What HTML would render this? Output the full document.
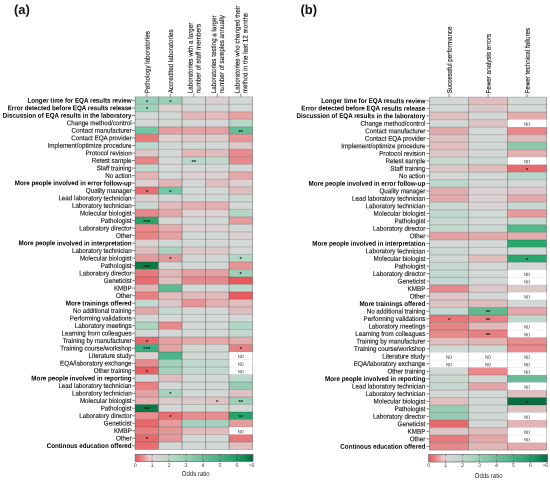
<!DOCTYPE html>
<html><head><meta charset="utf-8"><style>
html,body{margin:0;padding:0;background:#fff;}
svg{display:block;filter:blur(0.35px);}
text{font-family:"Liberation Sans",sans-serif;text-rendering:geometricPrecision;}
.lb{font-size:6.85px;text-anchor:end;fill:#111;stroke:#111;stroke-width:0.12px;}
.b{font-weight:bold;fill:#000;stroke:none;}
.hd{font-size:6.8px;fill:#111;stroke:#111;stroke-width:0.12px;}
.hl{stroke:rgba(0,0,0,0.32);stroke-width:0.6;}
.hl2{stroke:rgba(0,0,0,0.1);stroke-width:0.6;}
.vl2{stroke:rgba(30,30,30,0.3);stroke-width:0.7;}
.vl{stroke:rgba(30,30,30,0.5);stroke-width:0.7;}
.tk{stroke:#555;stroke-width:0.7;}
.nd{font-size:4.8px;text-anchor:middle;fill:#333;}
.st{font-size:6px;text-anchor:middle;fill:#111;font-weight:bold;}
.cbl{font-size:5.3px;text-anchor:middle;fill:#444;}
.cbt{stroke:rgba(60,60,60,0.2);stroke-width:0.6;}
.cbt2{stroke:rgba(40,40,40,0.6);stroke-width:0.7;}
.or{font-size:7.0px;text-anchor:middle;fill:#222;}
.pl{font-size:13px;font-weight:bold;fill:#111;}
</style></head><body>
<svg width="550" height="482" viewBox="0 0 550 482">
<rect width="550" height="482" fill="#fff"/>
<rect x="135.10" y="96.80" width="23.48" height="7.50" fill="#98d0b9"/>
<text x="146.84" y="103.75" class="st">*</text>
<rect x="158.58" y="96.80" width="23.48" height="7.50" fill="#98d0b9"/>
<text x="170.32" y="103.75" class="st">*</text>
<rect x="182.06" y="96.80" width="23.48" height="7.50" fill="#d3d8d6"/>
<rect x="205.54" y="96.80" width="23.48" height="7.50" fill="#dccfcf"/>
<rect x="229.02" y="96.80" width="23.48" height="7.50" fill="#d3d8d6"/>
<rect x="135.10" y="104.30" width="23.48" height="7.50" fill="#9ed3bb"/>
<text x="146.84" y="111.26" class="st">*</text>
<rect x="158.58" y="104.30" width="23.48" height="7.50" fill="#dcd2d3"/>
<rect x="182.06" y="104.30" width="23.48" height="7.50" fill="#d3d8d6"/>
<rect x="205.54" y="104.30" width="23.48" height="7.50" fill="#d3d8d6"/>
<rect x="229.02" y="104.30" width="23.48" height="7.50" fill="#d3d8d6"/>
<rect x="135.10" y="111.81" width="23.48" height="7.50" fill="#d3d8d6"/>
<rect x="158.58" y="111.81" width="23.48" height="7.50" fill="#cfd8d3"/>
<rect x="182.06" y="111.81" width="23.48" height="7.50" fill="#e3b6b7"/>
<rect x="205.54" y="111.81" width="23.48" height="7.50" fill="#e3bcbd"/>
<rect x="229.02" y="111.81" width="23.48" height="7.50" fill="#e6a3a4"/>
<rect x="135.10" y="119.31" width="23.48" height="7.50" fill="#d3d8d6"/>
<rect x="158.58" y="119.31" width="23.48" height="7.50" fill="#d3d8d6"/>
<rect x="182.06" y="119.31" width="23.48" height="7.50" fill="#d3d8d6"/>
<rect x="205.54" y="119.31" width="23.48" height="7.50" fill="#d3d8d6"/>
<rect x="229.02" y="119.31" width="23.48" height="7.50" fill="#b6d8c8"/>
<rect x="135.10" y="126.82" width="23.48" height="7.50" fill="#6fc8a0"/>
<rect x="158.58" y="126.82" width="23.48" height="7.50" fill="#e79c9d"/>
<rect x="182.06" y="126.82" width="23.48" height="7.50" fill="#e5a2a3"/>
<rect x="205.54" y="126.82" width="23.48" height="7.50" fill="#e5a2a3"/>
<rect x="229.02" y="126.82" width="23.48" height="7.50" fill="#66be97"/>
<text x="240.76" y="133.77" class="st">**</text>
<rect x="135.10" y="134.32" width="23.48" height="7.50" fill="#e8787a"/>
<rect x="158.58" y="134.32" width="23.48" height="7.50" fill="#dcd0d0"/>
<rect x="182.06" y="134.32" width="23.48" height="7.50" fill="#dec8c8"/>
<rect x="205.54" y="134.32" width="23.48" height="7.50" fill="#dccccc"/>
<rect x="229.02" y="134.32" width="23.48" height="7.50" fill="#e69596"/>
<rect x="135.10" y="141.83" width="23.48" height="7.50" fill="#bcd8cc"/>
<rect x="158.58" y="141.83" width="23.48" height="7.50" fill="#d3d8d6"/>
<rect x="182.06" y="141.83" width="23.48" height="7.50" fill="#d3d8d6"/>
<rect x="205.54" y="141.83" width="23.48" height="7.50" fill="#d3d8d6"/>
<rect x="229.02" y="141.83" width="23.48" height="7.50" fill="#dcc9c9"/>
<rect x="135.10" y="149.33" width="23.48" height="7.50" fill="#dcc8c8"/>
<rect x="158.58" y="149.33" width="23.48" height="7.50" fill="#d3d8d6"/>
<rect x="182.06" y="149.33" width="23.48" height="7.50" fill="#e3b5b6"/>
<rect x="205.54" y="149.33" width="23.48" height="7.50" fill="#dfbdbe"/>
<rect x="229.02" y="149.33" width="23.48" height="7.50" fill="#e8898b"/>
<rect x="135.10" y="156.84" width="23.48" height="7.50" fill="#e88486"/>
<rect x="158.58" y="156.84" width="23.48" height="7.50" fill="#d3d8d6"/>
<rect x="182.06" y="156.84" width="23.48" height="7.50" fill="#b9d7c9"/>
<text x="193.80" y="163.79" class="st">**</text>
<rect x="205.54" y="156.84" width="23.48" height="7.50" fill="#c0d8cc"/>
<rect x="229.02" y="156.84" width="23.48" height="7.50" fill="#e88a8c"/>
<rect x="135.10" y="164.34" width="23.48" height="7.50" fill="#c0d8cc"/>
<rect x="158.58" y="164.34" width="23.48" height="7.50" fill="#d3d8d6"/>
<rect x="182.06" y="164.34" width="23.48" height="7.50" fill="#d3d8d6"/>
<rect x="205.54" y="164.34" width="23.48" height="7.50" fill="#d3d8d6"/>
<rect x="229.02" y="164.34" width="23.48" height="7.50" fill="#d3d8d6"/>
<rect x="135.10" y="171.85" width="23.48" height="7.50" fill="#e3b4b5"/>
<rect x="158.58" y="171.85" width="23.48" height="7.50" fill="#d3d8d6"/>
<rect x="182.06" y="171.85" width="23.48" height="7.50" fill="#dcd0d0"/>
<rect x="205.54" y="171.85" width="23.48" height="7.50" fill="#dcd0d0"/>
<rect x="229.02" y="171.85" width="23.48" height="7.50" fill="#e5a9aa"/>
<rect x="135.10" y="179.35" width="23.48" height="7.50" fill="#dcd0d0"/>
<rect x="158.58" y="179.35" width="23.48" height="7.50" fill="#e3b4b5"/>
<rect x="182.06" y="179.35" width="23.48" height="7.50" fill="#d3d8d6"/>
<rect x="205.54" y="179.35" width="23.48" height="7.50" fill="#dfc0c1"/>
<rect x="229.02" y="179.35" width="23.48" height="7.50" fill="#dcd0d0"/>
<rect x="135.10" y="186.86" width="23.48" height="7.50" fill="#e86f71"/>
<text x="146.84" y="193.81" class="st">*</text>
<rect x="158.58" y="186.86" width="23.48" height="7.50" fill="#6ccba2"/>
<text x="170.32" y="193.81" class="st">*</text>
<rect x="182.06" y="186.86" width="23.48" height="7.50" fill="#d3d8d6"/>
<rect x="205.54" y="186.86" width="23.48" height="7.50" fill="#d3d8d6"/>
<rect x="229.02" y="186.86" width="23.48" height="7.50" fill="#e0bebf"/>
<rect x="135.10" y="194.37" width="23.48" height="7.50" fill="#dccfcf"/>
<rect x="158.58" y="194.37" width="23.48" height="7.50" fill="#d0d8d4"/>
<rect x="182.06" y="194.37" width="23.48" height="7.50" fill="#d3d8d6"/>
<rect x="205.54" y="194.37" width="23.48" height="7.50" fill="#d3d8d6"/>
<rect x="229.02" y="194.37" width="23.48" height="7.50" fill="#c9d9d1"/>
<rect x="135.10" y="201.87" width="23.48" height="7.50" fill="#ccd8d2"/>
<rect x="158.58" y="201.87" width="23.48" height="7.50" fill="#e0bcbd"/>
<rect x="182.06" y="201.87" width="23.48" height="7.50" fill="#e2b0b1"/>
<rect x="205.54" y="201.87" width="23.48" height="7.50" fill="#e2b0b1"/>
<rect x="229.02" y="201.87" width="23.48" height="7.50" fill="#d3d8d6"/>
<rect x="135.10" y="209.38" width="23.48" height="7.50" fill="#e88889"/>
<rect x="158.58" y="209.38" width="23.48" height="7.50" fill="#e2a8a9"/>
<rect x="182.06" y="209.38" width="23.48" height="7.50" fill="#dcd0d0"/>
<rect x="205.54" y="209.38" width="23.48" height="7.50" fill="#dcd0d0"/>
<rect x="229.02" y="209.38" width="23.48" height="7.50" fill="#b5d6c6"/>
<rect x="135.10" y="216.88" width="23.48" height="7.50" fill="#2aa46a"/>
<text x="146.84" y="223.83" class="st">***</text>
<rect x="158.58" y="216.88" width="23.48" height="7.50" fill="#d3d8d6"/>
<rect x="182.06" y="216.88" width="23.48" height="7.50" fill="#d3d8d6"/>
<rect x="205.54" y="216.88" width="23.48" height="7.50" fill="#d3d8d6"/>
<rect x="229.02" y="216.88" width="23.48" height="7.50" fill="#e69a9b"/>
<rect x="135.10" y="224.38" width="23.48" height="7.50" fill="#e8898a"/>
<rect x="158.58" y="224.38" width="23.48" height="7.50" fill="#e3adae"/>
<rect x="182.06" y="224.38" width="23.48" height="7.50" fill="#dcd0d0"/>
<rect x="205.54" y="224.38" width="23.48" height="7.50" fill="#dcd0d0"/>
<rect x="229.02" y="224.38" width="23.48" height="7.50" fill="#d3d8d6"/>
<rect x="135.10" y="231.89" width="23.48" height="7.50" fill="#e88486"/>
<rect x="158.58" y="231.89" width="23.48" height="7.50" fill="#e5a0a1"/>
<rect x="182.06" y="231.89" width="23.48" height="7.50" fill="#d3d8d6"/>
<rect x="205.54" y="231.89" width="23.48" height="7.50" fill="#d3d8d6"/>
<rect x="229.02" y="231.89" width="23.48" height="7.50" fill="#dcd0d0"/>
<rect x="135.10" y="239.39" width="23.48" height="7.50" fill="#dcd0d0"/>
<rect x="158.58" y="239.39" width="23.48" height="7.50" fill="#d3d8d6"/>
<rect x="182.06" y="239.39" width="23.48" height="7.50" fill="#d3d8d6"/>
<rect x="205.54" y="239.39" width="23.48" height="7.50" fill="#d3d8d6"/>
<rect x="229.02" y="239.39" width="23.48" height="7.50" fill="#d3d8d6"/>
<rect x="135.10" y="246.90" width="23.48" height="7.50" fill="#e0bcbd"/>
<rect x="158.58" y="246.90" width="23.48" height="7.50" fill="#a9d3bf"/>
<rect x="182.06" y="246.90" width="23.48" height="7.50" fill="#dcc8c8"/>
<rect x="205.54" y="246.90" width="23.48" height="7.50" fill="#dcc8c8"/>
<rect x="229.02" y="246.90" width="23.48" height="7.50" fill="#d3d8d6"/>
<rect x="135.10" y="254.40" width="23.48" height="7.50" fill="#e59c9d"/>
<rect x="158.58" y="254.40" width="23.48" height="7.50" fill="#e5999a"/>
<text x="170.32" y="261.36" class="st">*</text>
<rect x="182.06" y="254.40" width="23.48" height="7.50" fill="#d3d8d6"/>
<rect x="205.54" y="254.40" width="23.48" height="7.50" fill="#d3d8d6"/>
<rect x="229.02" y="254.40" width="23.48" height="7.50" fill="#b2d6c5"/>
<text x="240.76" y="261.36" class="st">*</text>
<rect x="135.10" y="261.91" width="23.48" height="7.50" fill="#0e7a48"/>
<text x="146.84" y="268.86" class="st">***</text>
<rect x="158.58" y="261.91" width="23.48" height="7.50" fill="#d3d8d6"/>
<rect x="182.06" y="261.91" width="23.48" height="7.50" fill="#d3d8d6"/>
<rect x="205.54" y="261.91" width="23.48" height="7.50" fill="#d3d8d6"/>
<rect x="229.02" y="261.91" width="23.48" height="7.50" fill="#e69596"/>
<rect x="135.10" y="269.42" width="23.48" height="7.50" fill="#e87a7c"/>
<rect x="158.58" y="269.42" width="23.48" height="7.50" fill="#e0b8b9"/>
<rect x="182.06" y="269.42" width="23.48" height="7.50" fill="#e5a0a1"/>
<rect x="205.54" y="269.42" width="23.48" height="7.50" fill="#e5a0a1"/>
<rect x="229.02" y="269.42" width="23.48" height="7.50" fill="#9dcfb8"/>
<text x="240.76" y="276.37" class="st">*</text>
<rect x="135.10" y="276.92" width="23.48" height="7.50" fill="#e86c6e"/>
<rect x="158.58" y="276.92" width="23.48" height="7.50" fill="#dfc0c0"/>
<rect x="182.06" y="276.92" width="23.48" height="7.50" fill="#e7898a"/>
<rect x="205.54" y="276.92" width="23.48" height="7.50" fill="#e7898a"/>
<rect x="229.02" y="276.92" width="23.48" height="7.50" fill="#e8595c"/>
<rect x="135.10" y="284.43" width="23.48" height="7.50" fill="#e0b5b6"/>
<rect x="158.58" y="284.43" width="23.48" height="7.50" fill="#5fbb92"/>
<rect x="182.06" y="284.43" width="23.48" height="7.50" fill="#d3d8d6"/>
<rect x="205.54" y="284.43" width="23.48" height="7.50" fill="#d3d8d6"/>
<rect x="229.02" y="284.43" width="23.48" height="7.50" fill="#bcd8cb"/>
<rect x="135.10" y="291.93" width="23.48" height="7.50" fill="#e87f81"/>
<rect x="158.58" y="291.93" width="23.48" height="7.50" fill="#e0bcbd"/>
<rect x="182.06" y="291.93" width="23.48" height="7.50" fill="#e0bcbd"/>
<rect x="205.54" y="291.93" width="23.48" height="7.50" fill="#e0bcbd"/>
<rect x="229.02" y="291.93" width="23.48" height="7.50" fill="#e85b5e"/>
<rect x="135.10" y="299.44" width="23.48" height="7.50" fill="#c3d8ce"/>
<rect x="158.58" y="299.44" width="23.48" height="7.50" fill="#dcc8c9"/>
<rect x="182.06" y="299.44" width="23.48" height="7.50" fill="#e89395"/>
<rect x="205.54" y="299.44" width="23.48" height="7.50" fill="#e2b0b1"/>
<rect x="229.02" y="299.44" width="23.48" height="7.50" fill="#e0bebf"/>
<rect x="135.10" y="306.94" width="23.48" height="7.50" fill="#e3a6a7"/>
<rect x="158.58" y="306.94" width="23.48" height="7.50" fill="#c3d8ce"/>
<rect x="182.06" y="306.94" width="23.48" height="7.50" fill="#d3d8d6"/>
<rect x="205.54" y="306.94" width="23.48" height="7.50" fill="#d3d8d6"/>
<rect x="229.02" y="306.94" width="23.48" height="7.50" fill="#e0bebf"/>
<rect x="135.10" y="314.44" width="23.48" height="7.50" fill="#d3d8d6"/>
<rect x="158.58" y="314.44" width="23.48" height="7.50" fill="#d3d8d6"/>
<rect x="182.06" y="314.44" width="23.48" height="7.50" fill="#d3d8d6"/>
<rect x="205.54" y="314.44" width="23.48" height="7.50" fill="#d3d8d6"/>
<rect x="229.02" y="314.44" width="23.48" height="7.50" fill="#d3d8d6"/>
<rect x="135.10" y="321.95" width="23.48" height="7.50" fill="#abd3c1"/>
<rect x="158.58" y="321.95" width="23.48" height="7.50" fill="#e8898b"/>
<rect x="182.06" y="321.95" width="23.48" height="7.50" fill="#d3d8d6"/>
<rect x="205.54" y="321.95" width="23.48" height="7.50" fill="#d3d8d6"/>
<rect x="229.02" y="321.95" width="23.48" height="7.50" fill="#b3d6c6"/>
<rect x="135.10" y="329.45" width="23.48" height="7.50" fill="#d3d8d6"/>
<rect x="158.58" y="329.45" width="23.48" height="7.50" fill="#d3d8d6"/>
<rect x="182.06" y="329.45" width="23.48" height="7.50" fill="#d3d8d6"/>
<rect x="205.54" y="329.45" width="23.48" height="7.50" fill="#d3d8d6"/>
<rect x="229.02" y="329.45" width="23.48" height="7.50" fill="#c3d8ce"/>
<rect x="135.10" y="336.96" width="23.48" height="7.50" fill="#e86a6c"/>
<text x="146.84" y="343.91" class="st">*</text>
<rect x="158.58" y="336.96" width="23.48" height="7.50" fill="#e5a0a1"/>
<rect x="182.06" y="336.96" width="23.48" height="7.50" fill="#e5a7a8"/>
<rect x="205.54" y="336.96" width="23.48" height="7.50" fill="#e5a7a8"/>
<rect x="229.02" y="336.96" width="23.48" height="7.50" fill="#e3adae"/>
<rect x="135.10" y="344.46" width="23.48" height="7.50" fill="#3ab07f"/>
<text x="146.84" y="351.42" class="st">***</text>
<rect x="158.58" y="344.46" width="23.48" height="7.50" fill="#e5a0a1"/>
<rect x="182.06" y="344.46" width="23.48" height="7.50" fill="#d3d8d6"/>
<rect x="205.54" y="344.46" width="23.48" height="7.50" fill="#d3d8d6"/>
<rect x="229.02" y="344.46" width="23.48" height="7.50" fill="#e88082"/>
<text x="240.76" y="351.42" class="st">*</text>
<rect x="135.10" y="351.97" width="23.48" height="7.50" fill="#dcd0d0"/>
<rect x="158.58" y="351.97" width="23.48" height="7.50" fill="#4cb48a"/>
<rect x="182.06" y="351.97" width="23.48" height="7.50" fill="#d3d8d6"/>
<rect x="205.54" y="351.97" width="23.48" height="7.50" fill="#d3d8d6"/>
<rect x="229.02" y="351.97" width="23.48" height="7.50" fill="#ffffff"/>
<text transform="translate(240.76,358.12) scale(0.9,1) rotate(0.05)" class="nd">ND</text>
<rect x="135.10" y="359.48" width="23.48" height="7.50" fill="#e68c8e"/>
<rect x="158.58" y="359.48" width="23.48" height="7.50" fill="#a4d1bc"/>
<rect x="182.06" y="359.48" width="23.48" height="7.50" fill="#c3d8ce"/>
<rect x="205.54" y="359.48" width="23.48" height="7.50" fill="#c3d8ce"/>
<rect x="229.02" y="359.48" width="23.48" height="7.50" fill="#ffffff"/>
<text transform="translate(240.76,365.63) scale(0.9,1) rotate(0.05)" class="nd">ND</text>
<rect x="135.10" y="366.98" width="23.48" height="7.50" fill="#e85e61"/>
<text x="146.84" y="373.93" class="st">*</text>
<rect x="158.58" y="366.98" width="23.48" height="7.50" fill="#a4d1bc"/>
<rect x="182.06" y="366.98" width="23.48" height="7.50" fill="#c3d8ce"/>
<rect x="205.54" y="366.98" width="23.48" height="7.50" fill="#c3d8ce"/>
<rect x="229.02" y="366.98" width="23.48" height="7.50" fill="#ffffff"/>
<text transform="translate(240.76,373.13) scale(0.9,1) rotate(0.05)" class="nd">ND</text>
<rect x="135.10" y="374.49" width="23.48" height="7.50" fill="#d3d8d6"/>
<rect x="158.58" y="374.49" width="23.48" height="7.50" fill="#e0bcbd"/>
<rect x="182.06" y="374.49" width="23.48" height="7.50" fill="#d3d8d6"/>
<rect x="205.54" y="374.49" width="23.48" height="7.50" fill="#d3d8d6"/>
<rect x="229.02" y="374.49" width="23.48" height="7.50" fill="#bcd8cb"/>
<rect x="135.10" y="381.99" width="23.48" height="7.50" fill="#e87f81"/>
<rect x="158.58" y="381.99" width="23.48" height="7.50" fill="#d3d8d6"/>
<rect x="182.06" y="381.99" width="23.48" height="7.50" fill="#d3d8d6"/>
<rect x="205.54" y="381.99" width="23.48" height="7.50" fill="#d3d8d6"/>
<rect x="229.02" y="381.99" width="23.48" height="7.50" fill="#94cdb2"/>
<rect x="135.10" y="389.50" width="23.48" height="7.50" fill="#e3a3a4"/>
<rect x="158.58" y="389.50" width="23.48" height="7.50" fill="#a8d3bf"/>
<text x="170.32" y="396.45" class="st">*</text>
<rect x="182.06" y="389.50" width="23.48" height="7.50" fill="#d3d8d6"/>
<rect x="205.54" y="389.50" width="23.48" height="7.50" fill="#d3d8d6"/>
<rect x="229.02" y="389.50" width="23.48" height="7.50" fill="#dfc3c4"/>
<rect x="135.10" y="397.00" width="23.48" height="7.50" fill="#e3b0b1"/>
<rect x="158.58" y="397.00" width="23.48" height="7.50" fill="#dcc8c9"/>
<rect x="182.06" y="397.00" width="23.48" height="7.50" fill="#dcc8c9"/>
<rect x="205.54" y="397.00" width="23.48" height="7.50" fill="#dfc3c4"/>
<text x="217.28" y="403.95" class="st">*</text>
<rect x="229.02" y="397.00" width="23.48" height="7.50" fill="#9dcfb8"/>
<text x="240.76" y="403.95" class="st">**</text>
<rect x="135.10" y="404.50" width="23.48" height="7.50" fill="#0c7a47"/>
<text x="146.84" y="411.46" class="st">***</text>
<rect x="158.58" y="404.50" width="23.48" height="7.50" fill="#d3d8d6"/>
<rect x="182.06" y="404.50" width="23.48" height="7.50" fill="#d0d8d4"/>
<rect x="205.54" y="404.50" width="23.48" height="7.50" fill="#d0d8d4"/>
<rect x="229.02" y="404.50" width="23.48" height="7.50" fill="#d3d8d6"/>
<rect x="135.10" y="412.01" width="23.48" height="7.50" fill="#e68e90"/>
<rect x="158.58" y="412.01" width="23.48" height="7.50" fill="#e86e70"/>
<text x="170.32" y="418.96" class="st">*</text>
<rect x="182.06" y="412.01" width="23.48" height="7.50" fill="#e68e90"/>
<rect x="205.54" y="412.01" width="23.48" height="7.50" fill="#e68e90"/>
<rect x="229.02" y="412.01" width="23.48" height="7.50" fill="#25a56b"/>
<text x="240.76" y="418.96" class="st">**</text>
<rect x="135.10" y="419.51" width="23.48" height="7.50" fill="#e8696b"/>
<rect x="158.58" y="419.51" width="23.48" height="7.50" fill="#e59b9c"/>
<rect x="182.06" y="419.51" width="23.48" height="7.50" fill="#a7d2be"/>
<rect x="205.54" y="419.51" width="23.48" height="7.50" fill="#a7d2be"/>
<rect x="229.02" y="419.51" width="23.48" height="7.50" fill="#e59c9d"/>
<rect x="135.10" y="427.02" width="23.48" height="7.50" fill="#e88082"/>
<rect x="158.58" y="427.02" width="23.48" height="7.50" fill="#e59697"/>
<rect x="182.06" y="427.02" width="23.48" height="7.50" fill="#e0bcbd"/>
<rect x="205.54" y="427.02" width="23.48" height="7.50" fill="#e0bcbd"/>
<rect x="229.02" y="427.02" width="23.48" height="7.50" fill="#ffffff"/>
<text transform="translate(240.76,433.17) scale(0.9,1) rotate(0.05)" class="nd">ND</text>
<rect x="135.10" y="434.53" width="23.48" height="7.50" fill="#e8696b"/>
<text x="146.84" y="441.48" class="st">*</text>
<rect x="158.58" y="434.53" width="23.48" height="7.50" fill="#e5999a"/>
<rect x="182.06" y="434.53" width="23.48" height="7.50" fill="#d3d8d6"/>
<rect x="205.54" y="434.53" width="23.48" height="7.50" fill="#d3d8d6"/>
<rect x="229.02" y="434.53" width="23.48" height="7.50" fill="#e8797b"/>
<rect x="135.10" y="442.03" width="23.48" height="7.50" fill="#e86f71"/>
<rect x="158.58" y="442.03" width="23.48" height="7.50" fill="#d3d8d6"/>
<rect x="182.06" y="442.03" width="23.48" height="7.50" fill="#d3d8d6"/>
<rect x="205.54" y="442.03" width="23.48" height="7.50" fill="#d3d8d6"/>
<rect x="229.02" y="442.03" width="23.48" height="7.50" fill="#e0bcbd"/>
<line x1="135.10" x2="252.50" y1="96.80" y2="96.80" class="hl"/>
<line x1="135.10" x2="252.50" y1="104.30" y2="104.30" class="hl"/>
<line x1="135.10" x2="252.50" y1="111.81" y2="111.81" class="hl"/>
<line x1="135.10" x2="252.50" y1="119.31" y2="119.31" class="hl"/>
<line x1="135.10" x2="252.50" y1="126.82" y2="126.82" class="hl"/>
<line x1="135.10" x2="252.50" y1="134.32" y2="134.32" class="hl"/>
<line x1="135.10" x2="252.50" y1="141.83" y2="141.83" class="hl"/>
<line x1="135.10" x2="252.50" y1="149.33" y2="149.33" class="hl"/>
<line x1="135.10" x2="252.50" y1="156.84" y2="156.84" class="hl"/>
<line x1="135.10" x2="252.50" y1="164.34" y2="164.34" class="hl"/>
<line x1="135.10" x2="252.50" y1="171.85" y2="171.85" class="hl"/>
<line x1="135.10" x2="252.50" y1="179.35" y2="179.35" class="hl"/>
<line x1="135.10" x2="252.50" y1="186.86" y2="186.86" class="hl"/>
<line x1="135.10" x2="252.50" y1="194.37" y2="194.37" class="hl"/>
<line x1="135.10" x2="252.50" y1="201.87" y2="201.87" class="hl"/>
<line x1="135.10" x2="252.50" y1="209.38" y2="209.38" class="hl"/>
<line x1="135.10" x2="252.50" y1="216.88" y2="216.88" class="hl"/>
<line x1="135.10" x2="252.50" y1="224.38" y2="224.38" class="hl"/>
<line x1="135.10" x2="252.50" y1="231.89" y2="231.89" class="hl"/>
<line x1="135.10" x2="252.50" y1="239.39" y2="239.39" class="hl"/>
<line x1="135.10" x2="252.50" y1="246.90" y2="246.90" class="hl"/>
<line x1="135.10" x2="252.50" y1="254.40" y2="254.40" class="hl"/>
<line x1="135.10" x2="252.50" y1="261.91" y2="261.91" class="hl"/>
<line x1="135.10" x2="252.50" y1="269.42" y2="269.42" class="hl"/>
<line x1="135.10" x2="252.50" y1="276.92" y2="276.92" class="hl"/>
<line x1="135.10" x2="252.50" y1="284.43" y2="284.43" class="hl"/>
<line x1="135.10" x2="252.50" y1="291.93" y2="291.93" class="hl"/>
<line x1="135.10" x2="252.50" y1="299.44" y2="299.44" class="hl"/>
<line x1="135.10" x2="252.50" y1="306.94" y2="306.94" class="hl"/>
<line x1="135.10" x2="252.50" y1="314.44" y2="314.44" class="hl"/>
<line x1="135.10" x2="252.50" y1="321.95" y2="321.95" class="hl"/>
<line x1="135.10" x2="252.50" y1="329.45" y2="329.45" class="hl"/>
<line x1="135.10" x2="252.50" y1="336.96" y2="336.96" class="hl"/>
<line x1="135.10" x2="252.50" y1="344.46" y2="344.46" class="hl"/>
<line x1="135.10" x2="229.02" y1="351.97" y2="351.97" class="hl"/>
<line x1="229.02" x2="252.50" y1="351.97" y2="351.97" class="hl2"/>
<line x1="135.10" x2="229.02" y1="359.48" y2="359.48" class="hl"/>
<line x1="229.02" x2="252.50" y1="359.48" y2="359.48" class="hl2"/>
<line x1="135.10" x2="229.02" y1="366.98" y2="366.98" class="hl"/>
<line x1="229.02" x2="252.50" y1="366.98" y2="366.98" class="hl2"/>
<line x1="135.10" x2="229.02" y1="374.49" y2="374.49" class="hl"/>
<line x1="229.02" x2="252.50" y1="374.49" y2="374.49" class="hl2"/>
<line x1="135.10" x2="252.50" y1="381.99" y2="381.99" class="hl"/>
<line x1="135.10" x2="252.50" y1="389.50" y2="389.50" class="hl"/>
<line x1="135.10" x2="252.50" y1="397.00" y2="397.00" class="hl"/>
<line x1="135.10" x2="252.50" y1="404.50" y2="404.50" class="hl"/>
<line x1="135.10" x2="252.50" y1="412.01" y2="412.01" class="hl"/>
<line x1="135.10" x2="252.50" y1="419.51" y2="419.51" class="hl"/>
<line x1="135.10" x2="229.02" y1="427.02" y2="427.02" class="hl"/>
<line x1="229.02" x2="252.50" y1="427.02" y2="427.02" class="hl2"/>
<line x1="135.10" x2="229.02" y1="434.53" y2="434.53" class="hl"/>
<line x1="229.02" x2="252.50" y1="434.53" y2="434.53" class="hl2"/>
<line x1="135.10" x2="252.50" y1="442.03" y2="442.03" class="hl"/>
<line x1="135.10" x2="252.50" y1="449.54" y2="449.54" class="hl"/>
<line x1="135.10" x2="135.10" y1="96.80" y2="449.54" class="vl"/>
<line x1="158.58" x2="158.58" y1="96.80" y2="449.54" class="vl"/>
<line x1="182.06" x2="182.06" y1="96.80" y2="449.54" class="vl"/>
<line x1="205.54" x2="205.54" y1="96.80" y2="449.54" class="vl"/>
<line x1="229.02" x2="229.02" y1="96.80" y2="351.97" class="vl"/>
<line x1="229.02" x2="229.02" y1="351.97" y2="374.49" class="vl2"/>
<line x1="229.02" x2="229.02" y1="374.49" y2="427.02" class="vl"/>
<line x1="229.02" x2="229.02" y1="427.02" y2="434.53" class="vl2"/>
<line x1="229.02" x2="229.02" y1="434.53" y2="449.54" class="vl"/>
<line x1="252.50" x2="252.50" y1="96.80" y2="351.97" class="vl"/>
<line x1="252.50" x2="252.50" y1="351.97" y2="374.49" class="vl2"/>
<line x1="252.50" x2="252.50" y1="374.49" y2="427.02" class="vl"/>
<line x1="252.50" x2="252.50" y1="427.02" y2="434.53" class="vl2"/>
<line x1="252.50" x2="252.50" y1="434.53" y2="449.54" class="vl"/>
<line x1="131.90" x2="135.10" y1="100.55" y2="100.55" class="tk"/>
<text transform="translate(131.60,102.85) scale(0.912,1) rotate(0.05)" class="lb b">Longer time for EQA results review</text>
<line x1="131.90" x2="135.10" y1="108.06" y2="108.06" class="tk"/>
<text transform="translate(131.60,110.36) scale(0.912,1) rotate(0.05)" class="lb b">Error detected before EQA results release</text>
<line x1="131.90" x2="135.10" y1="115.56" y2="115.56" class="tk"/>
<text transform="translate(131.60,117.86) scale(0.912,1) rotate(0.05)" class="lb b">Discussion of EQA results in the laboratory</text>
<line x1="131.90" x2="135.10" y1="123.07" y2="123.07" class="tk"/>
<text transform="translate(131.60,125.37) scale(0.912,1) rotate(0.05)" class="lb">Change method/control</text>
<line x1="131.90" x2="135.10" y1="130.57" y2="130.57" class="tk"/>
<text transform="translate(131.60,132.87) scale(0.912,1) rotate(0.05)" class="lb">Contact manufacturer</text>
<line x1="131.90" x2="135.10" y1="138.08" y2="138.08" class="tk"/>
<text transform="translate(131.60,140.38) scale(0.912,1) rotate(0.05)" class="lb">Contact EQA provider</text>
<line x1="131.90" x2="135.10" y1="145.58" y2="145.58" class="tk"/>
<text transform="translate(131.60,147.88) scale(0.912,1) rotate(0.05)" class="lb">Implement/optimize procedure</text>
<line x1="131.90" x2="135.10" y1="153.09" y2="153.09" class="tk"/>
<text transform="translate(131.60,155.39) scale(0.912,1) rotate(0.05)" class="lb">Protocol revision</text>
<line x1="131.90" x2="135.10" y1="160.59" y2="160.59" class="tk"/>
<text transform="translate(131.60,162.89) scale(0.912,1) rotate(0.05)" class="lb">Retest sample</text>
<line x1="131.90" x2="135.10" y1="168.10" y2="168.10" class="tk"/>
<text transform="translate(131.60,170.40) scale(0.912,1) rotate(0.05)" class="lb">Staff training</text>
<line x1="131.90" x2="135.10" y1="175.60" y2="175.60" class="tk"/>
<text transform="translate(131.60,177.90) scale(0.912,1) rotate(0.05)" class="lb">No action</text>
<line x1="131.90" x2="135.10" y1="183.11" y2="183.11" class="tk"/>
<text transform="translate(131.60,185.41) scale(0.912,1) rotate(0.05)" class="lb b">More people involved in error follow-up</text>
<line x1="131.90" x2="135.10" y1="190.61" y2="190.61" class="tk"/>
<text transform="translate(131.60,192.91) scale(0.912,1) rotate(0.05)" class="lb">Quality manager</text>
<line x1="131.90" x2="135.10" y1="198.12" y2="198.12" class="tk"/>
<text transform="translate(131.60,200.42) scale(0.912,1) rotate(0.05)" class="lb">Lead laboratory technician</text>
<line x1="131.90" x2="135.10" y1="205.62" y2="205.62" class="tk"/>
<text transform="translate(131.60,207.92) scale(0.912,1) rotate(0.05)" class="lb">Laboratory technician</text>
<line x1="131.90" x2="135.10" y1="213.13" y2="213.13" class="tk"/>
<text transform="translate(131.60,215.43) scale(0.912,1) rotate(0.05)" class="lb">Molecular biologist</text>
<line x1="131.90" x2="135.10" y1="220.63" y2="220.63" class="tk"/>
<text transform="translate(131.60,222.93) scale(0.912,1) rotate(0.05)" class="lb">Pathologist</text>
<line x1="131.90" x2="135.10" y1="228.14" y2="228.14" class="tk"/>
<text transform="translate(131.60,230.44) scale(0.912,1) rotate(0.05)" class="lb">Laboratory director</text>
<line x1="131.90" x2="135.10" y1="235.64" y2="235.64" class="tk"/>
<text transform="translate(131.60,237.94) scale(0.912,1) rotate(0.05)" class="lb">Other</text>
<line x1="131.90" x2="135.10" y1="243.15" y2="243.15" class="tk"/>
<text transform="translate(131.60,245.45) scale(0.912,1) rotate(0.05)" class="lb b">More people involved in interpretation</text>
<line x1="131.90" x2="135.10" y1="250.65" y2="250.65" class="tk"/>
<text transform="translate(131.60,252.95) scale(0.912,1) rotate(0.05)" class="lb">Laboratory technician</text>
<line x1="131.90" x2="135.10" y1="258.16" y2="258.16" class="tk"/>
<text transform="translate(131.60,260.46) scale(0.912,1) rotate(0.05)" class="lb">Molecular biologist</text>
<line x1="131.90" x2="135.10" y1="265.66" y2="265.66" class="tk"/>
<text transform="translate(131.60,267.96) scale(0.912,1) rotate(0.05)" class="lb">Pathologist</text>
<line x1="131.90" x2="135.10" y1="273.17" y2="273.17" class="tk"/>
<text transform="translate(131.60,275.47) scale(0.912,1) rotate(0.05)" class="lb">Laboratory director</text>
<line x1="131.90" x2="135.10" y1="280.67" y2="280.67" class="tk"/>
<text transform="translate(131.60,282.97) scale(0.912,1) rotate(0.05)" class="lb">Geneticist</text>
<line x1="131.90" x2="135.10" y1="288.18" y2="288.18" class="tk"/>
<text transform="translate(131.60,290.48) scale(0.912,1) rotate(0.05)" class="lb">KMBP</text>
<line x1="131.90" x2="135.10" y1="295.68" y2="295.68" class="tk"/>
<text transform="translate(131.60,297.98) scale(0.912,1) rotate(0.05)" class="lb">Other</text>
<line x1="131.90" x2="135.10" y1="303.19" y2="303.19" class="tk"/>
<text transform="translate(131.60,305.49) scale(0.912,1) rotate(0.05)" class="lb b">More trainings offered</text>
<line x1="131.90" x2="135.10" y1="310.69" y2="310.69" class="tk"/>
<text transform="translate(131.60,312.99) scale(0.912,1) rotate(0.05)" class="lb">No additional training</text>
<line x1="131.90" x2="135.10" y1="318.20" y2="318.20" class="tk"/>
<text transform="translate(131.60,320.50) scale(0.912,1) rotate(0.05)" class="lb">Performing validations</text>
<line x1="131.90" x2="135.10" y1="325.70" y2="325.70" class="tk"/>
<text transform="translate(131.60,328.00) scale(0.912,1) rotate(0.05)" class="lb">Laboratory meetings</text>
<line x1="131.90" x2="135.10" y1="333.21" y2="333.21" class="tk"/>
<text transform="translate(131.60,335.51) scale(0.912,1) rotate(0.05)" class="lb">Learning from colleagues</text>
<line x1="131.90" x2="135.10" y1="340.71" y2="340.71" class="tk"/>
<text transform="translate(131.60,343.01) scale(0.912,1) rotate(0.05)" class="lb">Training by manufacturer</text>
<line x1="131.90" x2="135.10" y1="348.22" y2="348.22" class="tk"/>
<text transform="translate(131.60,350.52) scale(0.912,1) rotate(0.05)" class="lb">Training course/workshop</text>
<line x1="131.90" x2="135.10" y1="355.72" y2="355.72" class="tk"/>
<text transform="translate(131.60,358.02) scale(0.912,1) rotate(0.05)" class="lb">Literature study</text>
<line x1="131.90" x2="135.10" y1="363.23" y2="363.23" class="tk"/>
<text transform="translate(131.60,365.53) scale(0.912,1) rotate(0.05)" class="lb">EQA/laboratory exchange</text>
<line x1="131.90" x2="135.10" y1="370.73" y2="370.73" class="tk"/>
<text transform="translate(131.60,373.03) scale(0.912,1) rotate(0.05)" class="lb">Other training</text>
<line x1="131.90" x2="135.10" y1="378.24" y2="378.24" class="tk"/>
<text transform="translate(131.60,380.54) scale(0.912,1) rotate(0.05)" class="lb b">More people involved in reporting</text>
<line x1="131.90" x2="135.10" y1="385.74" y2="385.74" class="tk"/>
<text transform="translate(131.60,388.04) scale(0.912,1) rotate(0.05)" class="lb">Lead laboratory technician</text>
<line x1="131.90" x2="135.10" y1="393.25" y2="393.25" class="tk"/>
<text transform="translate(131.60,395.55) scale(0.912,1) rotate(0.05)" class="lb">Laboratory technician</text>
<line x1="131.90" x2="135.10" y1="400.75" y2="400.75" class="tk"/>
<text transform="translate(131.60,403.05) scale(0.912,1) rotate(0.05)" class="lb">Molecular biologist</text>
<line x1="131.90" x2="135.10" y1="408.26" y2="408.26" class="tk"/>
<text transform="translate(131.60,410.56) scale(0.912,1) rotate(0.05)" class="lb">Pathologist</text>
<line x1="131.90" x2="135.10" y1="415.76" y2="415.76" class="tk"/>
<text transform="translate(131.60,418.06) scale(0.912,1) rotate(0.05)" class="lb">Laboratory director</text>
<line x1="131.90" x2="135.10" y1="423.27" y2="423.27" class="tk"/>
<text transform="translate(131.60,425.57) scale(0.912,1) rotate(0.05)" class="lb">Geneticist</text>
<line x1="131.90" x2="135.10" y1="430.77" y2="430.77" class="tk"/>
<text transform="translate(131.60,433.07) scale(0.912,1) rotate(0.05)" class="lb">KMBP</text>
<line x1="131.90" x2="135.10" y1="438.28" y2="438.28" class="tk"/>
<text transform="translate(131.60,440.58) scale(0.912,1) rotate(0.05)" class="lb">Other</text>
<line x1="131.90" x2="135.10" y1="445.78" y2="445.78" class="tk"/>
<text transform="translate(131.60,448.08) scale(0.912,1) rotate(0.05)" class="lb b">Continous education offered</text>
<rect x="429.60" y="97.10" width="38.97" height="7.51" fill="#d3d8d6"/>
<rect x="468.57" y="97.10" width="38.97" height="7.51" fill="#e0bcbd"/>
<rect x="507.54" y="97.10" width="38.97" height="7.51" fill="#d3d8d6"/>
<rect x="429.60" y="104.61" width="38.97" height="7.51" fill="#d3d8d6"/>
<rect x="468.57" y="104.61" width="38.97" height="7.51" fill="#dcc8c9"/>
<rect x="507.54" y="104.61" width="38.97" height="7.51" fill="#d3d8d6"/>
<rect x="429.60" y="112.12" width="38.97" height="7.51" fill="#e0c0c1"/>
<rect x="468.57" y="112.12" width="38.97" height="7.51" fill="#d3d8d6"/>
<rect x="507.54" y="112.12" width="38.97" height="7.51" fill="#e3acad"/>
<rect x="429.60" y="119.64" width="38.97" height="7.51" fill="#d3d8d6"/>
<rect x="468.57" y="119.64" width="38.97" height="7.51" fill="#dcc4c5"/>
<rect x="507.54" y="119.64" width="38.97" height="7.51" fill="#ffffff"/>
<text transform="translate(527.02,125.79) scale(0.9,1) rotate(0.05)" class="nd">ND</text>
<rect x="429.60" y="127.15" width="38.97" height="7.51" fill="#e3a9aa"/>
<rect x="468.57" y="127.15" width="38.97" height="7.51" fill="#d3d8d6"/>
<rect x="507.54" y="127.15" width="38.97" height="7.51" fill="#e78587"/>
<rect x="429.60" y="134.66" width="38.97" height="7.51" fill="#dcc4c5"/>
<rect x="468.57" y="134.66" width="38.97" height="7.51" fill="#d3d8d6"/>
<rect x="507.54" y="134.66" width="38.97" height="7.51" fill="#e0bcbd"/>
<rect x="429.60" y="142.17" width="38.97" height="7.51" fill="#dfbfc0"/>
<rect x="468.57" y="142.17" width="38.97" height="7.51" fill="#d3d8d6"/>
<rect x="507.54" y="142.17" width="38.97" height="7.51" fill="#8dc9ad"/>
<rect x="429.60" y="149.68" width="38.97" height="7.51" fill="#dcc8c9"/>
<rect x="468.57" y="149.68" width="38.97" height="7.51" fill="#d3d8d6"/>
<rect x="507.54" y="149.68" width="38.97" height="7.51" fill="#e3b0b1"/>
<rect x="429.60" y="157.20" width="38.97" height="7.51" fill="#c6d8cf"/>
<rect x="468.57" y="157.20" width="38.97" height="7.51" fill="#ccd8d2"/>
<rect x="507.54" y="157.20" width="38.97" height="7.51" fill="#ffffff"/>
<text transform="translate(527.02,163.35) scale(0.9,1) rotate(0.05)" class="nd">ND</text>
<rect x="429.60" y="164.71" width="38.97" height="7.51" fill="#dcc8c9"/>
<rect x="468.57" y="164.71" width="38.97" height="7.51" fill="#e0bcbd"/>
<rect x="507.54" y="164.71" width="38.97" height="7.51" fill="#e86a6c"/>
<text x="527.02" y="171.66" class="st">*</text>
<rect x="429.60" y="172.22" width="38.97" height="7.51" fill="#d3d8d6"/>
<rect x="468.57" y="172.22" width="38.97" height="7.51" fill="#d3d8d6"/>
<rect x="507.54" y="172.22" width="38.97" height="7.51" fill="#b7d6c7"/>
<rect x="429.60" y="179.73" width="38.97" height="7.51" fill="#c0d8cc"/>
<rect x="468.57" y="179.73" width="38.97" height="7.51" fill="#d3d8d6"/>
<rect x="507.54" y="179.73" width="38.97" height="7.51" fill="#d3d8d6"/>
<rect x="429.60" y="187.24" width="38.97" height="7.51" fill="#e3adae"/>
<rect x="468.57" y="187.24" width="38.97" height="7.51" fill="#dcd2d4"/>
<rect x="507.54" y="187.24" width="38.97" height="7.51" fill="#dcc8c9"/>
<rect x="429.60" y="194.76" width="38.97" height="7.51" fill="#e3a9aa"/>
<rect x="468.57" y="194.76" width="38.97" height="7.51" fill="#dcd2d4"/>
<rect x="507.54" y="194.76" width="38.97" height="7.51" fill="#e3a9aa"/>
<rect x="429.60" y="202.27" width="38.97" height="7.51" fill="#ccd8d2"/>
<rect x="468.57" y="202.27" width="38.97" height="7.51" fill="#dad3d5"/>
<rect x="507.54" y="202.27" width="38.97" height="7.51" fill="#c6d8cf"/>
<rect x="429.60" y="209.78" width="38.97" height="7.51" fill="#c3d8ce"/>
<rect x="468.57" y="209.78" width="38.97" height="7.51" fill="#cfd9d5"/>
<rect x="507.54" y="209.78" width="38.97" height="7.51" fill="#e69a9b"/>
<rect x="429.60" y="217.29" width="38.97" height="7.51" fill="#c6d8cf"/>
<rect x="468.57" y="217.29" width="38.97" height="7.51" fill="#d3d8d6"/>
<rect x="507.54" y="217.29" width="38.97" height="7.51" fill="#c3d8ce"/>
<rect x="429.60" y="224.80" width="38.97" height="7.51" fill="#c3d8ce"/>
<rect x="468.57" y="224.80" width="38.97" height="7.51" fill="#cad9d2"/>
<rect x="507.54" y="224.80" width="38.97" height="7.51" fill="#50ba8b"/>
<rect x="429.60" y="232.32" width="38.97" height="7.51" fill="#e5a0a1"/>
<rect x="468.57" y="232.32" width="38.97" height="7.51" fill="#e3a9aa"/>
<rect x="507.54" y="232.32" width="38.97" height="7.51" fill="#e3acad"/>
<rect x="429.60" y="239.83" width="38.97" height="7.51" fill="#d3d8d6"/>
<rect x="468.57" y="239.83" width="38.97" height="7.51" fill="#d3d8d6"/>
<rect x="507.54" y="239.83" width="38.97" height="7.51" fill="#28a86d"/>
<rect x="429.60" y="247.34" width="38.97" height="7.51" fill="#cad8d1"/>
<rect x="468.57" y="247.34" width="38.97" height="7.51" fill="#d3d8d6"/>
<rect x="507.54" y="247.34" width="38.97" height="7.51" fill="#d3d8d6"/>
<rect x="429.60" y="254.85" width="38.97" height="7.51" fill="#d3d8d6"/>
<rect x="468.57" y="254.85" width="38.97" height="7.51" fill="#e0bcbd"/>
<rect x="507.54" y="254.85" width="38.97" height="7.51" fill="#28a86d"/>
<text x="527.02" y="261.81" class="st">*</text>
<rect x="429.60" y="262.36" width="38.97" height="7.51" fill="#c6d8cf"/>
<rect x="468.57" y="262.36" width="38.97" height="7.51" fill="#d3d8d6"/>
<rect x="507.54" y="262.36" width="38.97" height="7.51" fill="#d3d8d6"/>
<rect x="429.60" y="269.88" width="38.97" height="7.51" fill="#c3d8ce"/>
<rect x="468.57" y="269.88" width="38.97" height="7.51" fill="#d3d8d6"/>
<rect x="507.54" y="269.88" width="38.97" height="7.51" fill="#ffffff"/>
<text transform="translate(527.02,276.03) scale(0.9,1) rotate(0.05)" class="nd">ND</text>
<rect x="429.60" y="277.39" width="38.97" height="7.51" fill="#c3d8ce"/>
<rect x="468.57" y="277.39" width="38.97" height="7.51" fill="#d3d8d6"/>
<rect x="507.54" y="277.39" width="38.97" height="7.51" fill="#ffffff"/>
<text transform="translate(527.02,283.54) scale(0.9,1) rotate(0.05)" class="nd">ND</text>
<rect x="429.60" y="284.90" width="38.97" height="7.51" fill="#e8898b"/>
<rect x="468.57" y="284.90" width="38.97" height="7.51" fill="#dcc8c9"/>
<rect x="507.54" y="284.90" width="38.97" height="7.51" fill="#dcc8c9"/>
<rect x="429.60" y="292.41" width="38.97" height="7.51" fill="#dcc8c9"/>
<rect x="468.57" y="292.41" width="38.97" height="7.51" fill="#d3d8d6"/>
<rect x="507.54" y="292.41" width="38.97" height="7.51" fill="#ffffff"/>
<text transform="translate(527.02,298.57) scale(0.9,1) rotate(0.05)" class="nd">ND</text>
<rect x="429.60" y="299.92" width="38.97" height="7.51" fill="#dcc4c5"/>
<rect x="468.57" y="299.92" width="38.97" height="7.51" fill="#dfbebf"/>
<rect x="507.54" y="299.92" width="38.97" height="7.51" fill="#d3d8d6"/>
<rect x="429.60" y="307.44" width="38.97" height="7.51" fill="#c3d8ce"/>
<rect x="468.57" y="307.44" width="38.97" height="7.51" fill="#5fba90"/>
<text x="488.06" y="314.39" class="st">**</text>
<rect x="507.54" y="307.44" width="38.97" height="7.51" fill="#e3a9aa"/>
<rect x="429.60" y="314.95" width="38.97" height="7.51" fill="#e87577"/>
<text x="449.09" y="321.90" class="st">*</text>
<rect x="468.57" y="314.95" width="38.97" height="7.51" fill="#e68587"/>
<text x="488.06" y="321.90" class="st">**</text>
<rect x="507.54" y="314.95" width="38.97" height="7.51" fill="#c0d8cc"/>
<rect x="429.60" y="322.46" width="38.97" height="7.51" fill="#e68587"/>
<rect x="468.57" y="322.46" width="38.97" height="7.51" fill="#e0b8b9"/>
<rect x="507.54" y="322.46" width="38.97" height="7.51" fill="#ffffff"/>
<text transform="translate(527.02,328.62) scale(0.9,1) rotate(0.05)" class="nd">ND</text>
<rect x="429.60" y="329.97" width="38.97" height="7.51" fill="#e68a8c"/>
<rect x="468.57" y="329.97" width="38.97" height="7.51" fill="#e78082"/>
<text x="488.06" y="336.93" class="st">**</text>
<rect x="507.54" y="329.97" width="38.97" height="7.51" fill="#ffffff"/>
<text transform="translate(527.02,336.13) scale(0.9,1) rotate(0.05)" class="nd">ND</text>
<rect x="429.60" y="337.48" width="38.97" height="7.51" fill="#dfbcbd"/>
<rect x="468.57" y="337.48" width="38.97" height="7.51" fill="#e0b5b6"/>
<rect x="507.54" y="337.48" width="38.97" height="7.51" fill="#e68e90"/>
<rect x="429.60" y="345.00" width="38.97" height="7.51" fill="#cdd8d3"/>
<rect x="468.57" y="345.00" width="38.97" height="7.51" fill="#cdd8d3"/>
<rect x="507.54" y="345.00" width="38.97" height="7.51" fill="#e68a8c"/>
<rect x="429.60" y="352.51" width="38.97" height="7.51" fill="#ffffff"/>
<text transform="translate(449.09,358.66) scale(0.9,1) rotate(0.05)" class="nd">ND</text>
<rect x="468.57" y="352.51" width="38.97" height="7.51" fill="#ffffff"/>
<text transform="translate(488.06,358.66) scale(0.9,1) rotate(0.05)" class="nd">ND</text>
<rect x="507.54" y="352.51" width="38.97" height="7.51" fill="#ffffff"/>
<text transform="translate(527.02,358.66) scale(0.9,1) rotate(0.05)" class="nd">ND</text>
<rect x="429.60" y="360.02" width="38.97" height="7.51" fill="#ffffff"/>
<text transform="translate(449.09,366.18) scale(0.9,1) rotate(0.05)" class="nd">ND</text>
<rect x="468.57" y="360.02" width="38.97" height="7.51" fill="#ffffff"/>
<text transform="translate(488.06,366.18) scale(0.9,1) rotate(0.05)" class="nd">ND</text>
<rect x="507.54" y="360.02" width="38.97" height="7.51" fill="#ffffff"/>
<text transform="translate(527.02,366.18) scale(0.9,1) rotate(0.05)" class="nd">ND</text>
<rect x="429.60" y="367.53" width="38.97" height="7.51" fill="#d3d8d6"/>
<rect x="468.57" y="367.53" width="38.97" height="7.51" fill="#e8888a"/>
<rect x="507.54" y="367.53" width="38.97" height="7.51" fill="#ffffff"/>
<text transform="translate(527.02,373.69) scale(0.9,1) rotate(0.05)" class="nd">ND</text>
<rect x="429.60" y="375.04" width="38.97" height="7.51" fill="#c9d8d1"/>
<rect x="468.57" y="375.04" width="38.97" height="7.51" fill="#d3d8d6"/>
<rect x="507.54" y="375.04" width="38.97" height="7.51" fill="#68bd96"/>
<rect x="429.60" y="382.56" width="38.97" height="7.51" fill="#c6d8cf"/>
<rect x="468.57" y="382.56" width="38.97" height="7.51" fill="#e3a4a5"/>
<rect x="507.54" y="382.56" width="38.97" height="7.51" fill="#ffffff"/>
<text transform="translate(527.02,388.71) scale(0.9,1) rotate(0.05)" class="nd">ND</text>
<rect x="429.60" y="390.07" width="38.97" height="7.51" fill="#d3d8d6"/>
<rect x="468.57" y="390.07" width="38.97" height="7.51" fill="#d3d8d6"/>
<rect x="507.54" y="390.07" width="38.97" height="7.51" fill="#dfc0c1"/>
<rect x="429.60" y="397.58" width="38.97" height="7.51" fill="#dfc0c1"/>
<rect x="468.57" y="397.58" width="38.97" height="7.51" fill="#d3d8d6"/>
<rect x="507.54" y="397.58" width="38.97" height="7.51" fill="#0b6e40"/>
<text x="527.02" y="404.54" class="st">*</text>
<rect x="429.60" y="405.09" width="38.97" height="7.51" fill="#96ccb3"/>
<rect x="468.57" y="405.09" width="38.97" height="7.51" fill="#d3d8d6"/>
<rect x="507.54" y="405.09" width="38.97" height="7.51" fill="#dfc0c1"/>
<rect x="429.60" y="412.60" width="38.97" height="7.51" fill="#96ccb3"/>
<rect x="468.57" y="412.60" width="38.97" height="7.51" fill="#cdd8d3"/>
<rect x="507.54" y="412.60" width="38.97" height="7.51" fill="#ffffff"/>
<text transform="translate(527.02,418.76) scale(0.9,1) rotate(0.05)" class="nd">ND</text>
<rect x="429.60" y="420.12" width="38.97" height="7.51" fill="#e8696b"/>
<rect x="468.57" y="420.12" width="38.97" height="7.51" fill="#d3d8d6"/>
<rect x="507.54" y="420.12" width="38.97" height="7.51" fill="#e0b5b6"/>
<rect x="429.60" y="427.63" width="38.97" height="7.51" fill="#dcc8c9"/>
<rect x="468.57" y="427.63" width="38.97" height="7.51" fill="#e0bcbd"/>
<rect x="507.54" y="427.63" width="38.97" height="7.51" fill="#ffffff"/>
<text transform="translate(527.02,433.78) scale(0.9,1) rotate(0.05)" class="nd">ND</text>
<rect x="429.60" y="435.14" width="38.97" height="7.51" fill="#e87a7c"/>
<rect x="468.57" y="435.14" width="38.97" height="7.51" fill="#e3a9aa"/>
<rect x="507.54" y="435.14" width="38.97" height="7.51" fill="#ffffff"/>
<text transform="translate(527.02,441.30) scale(0.9,1) rotate(0.05)" class="nd">ND</text>
<rect x="429.60" y="442.65" width="38.97" height="7.51" fill="#e5898b"/>
<rect x="468.57" y="442.65" width="38.97" height="7.51" fill="#e0b5b6"/>
<rect x="507.54" y="442.65" width="38.97" height="7.51" fill="#e3aaab"/>
<line x1="429.60" x2="546.51" y1="97.10" y2="97.10" class="hl"/>
<line x1="429.60" x2="546.51" y1="104.61" y2="104.61" class="hl"/>
<line x1="429.60" x2="546.51" y1="112.12" y2="112.12" class="hl"/>
<line x1="429.60" x2="507.54" y1="119.64" y2="119.64" class="hl"/>
<line x1="507.54" x2="546.51" y1="119.64" y2="119.64" class="hl2"/>
<line x1="429.60" x2="507.54" y1="127.15" y2="127.15" class="hl"/>
<line x1="507.54" x2="546.51" y1="127.15" y2="127.15" class="hl2"/>
<line x1="429.60" x2="546.51" y1="134.66" y2="134.66" class="hl"/>
<line x1="429.60" x2="546.51" y1="142.17" y2="142.17" class="hl"/>
<line x1="429.60" x2="546.51" y1="149.68" y2="149.68" class="hl"/>
<line x1="429.60" x2="507.54" y1="157.20" y2="157.20" class="hl"/>
<line x1="507.54" x2="546.51" y1="157.20" y2="157.20" class="hl2"/>
<line x1="429.60" x2="507.54" y1="164.71" y2="164.71" class="hl"/>
<line x1="507.54" x2="546.51" y1="164.71" y2="164.71" class="hl2"/>
<line x1="429.60" x2="546.51" y1="172.22" y2="172.22" class="hl"/>
<line x1="429.60" x2="546.51" y1="179.73" y2="179.73" class="hl"/>
<line x1="429.60" x2="546.51" y1="187.24" y2="187.24" class="hl"/>
<line x1="429.60" x2="546.51" y1="194.76" y2="194.76" class="hl"/>
<line x1="429.60" x2="546.51" y1="202.27" y2="202.27" class="hl"/>
<line x1="429.60" x2="546.51" y1="209.78" y2="209.78" class="hl"/>
<line x1="429.60" x2="546.51" y1="217.29" y2="217.29" class="hl"/>
<line x1="429.60" x2="546.51" y1="224.80" y2="224.80" class="hl"/>
<line x1="429.60" x2="546.51" y1="232.32" y2="232.32" class="hl"/>
<line x1="429.60" x2="546.51" y1="239.83" y2="239.83" class="hl"/>
<line x1="429.60" x2="546.51" y1="247.34" y2="247.34" class="hl"/>
<line x1="429.60" x2="546.51" y1="254.85" y2="254.85" class="hl"/>
<line x1="429.60" x2="546.51" y1="262.36" y2="262.36" class="hl"/>
<line x1="429.60" x2="507.54" y1="269.88" y2="269.88" class="hl"/>
<line x1="507.54" x2="546.51" y1="269.88" y2="269.88" class="hl2"/>
<line x1="429.60" x2="507.54" y1="277.39" y2="277.39" class="hl"/>
<line x1="507.54" x2="546.51" y1="277.39" y2="277.39" class="hl2"/>
<line x1="429.60" x2="507.54" y1="284.90" y2="284.90" class="hl"/>
<line x1="507.54" x2="546.51" y1="284.90" y2="284.90" class="hl2"/>
<line x1="429.60" x2="507.54" y1="292.41" y2="292.41" class="hl"/>
<line x1="507.54" x2="546.51" y1="292.41" y2="292.41" class="hl2"/>
<line x1="429.60" x2="507.54" y1="299.92" y2="299.92" class="hl"/>
<line x1="507.54" x2="546.51" y1="299.92" y2="299.92" class="hl2"/>
<line x1="429.60" x2="546.51" y1="307.44" y2="307.44" class="hl"/>
<line x1="429.60" x2="546.51" y1="314.95" y2="314.95" class="hl"/>
<line x1="429.60" x2="507.54" y1="322.46" y2="322.46" class="hl"/>
<line x1="507.54" x2="546.51" y1="322.46" y2="322.46" class="hl2"/>
<line x1="429.60" x2="507.54" y1="329.97" y2="329.97" class="hl"/>
<line x1="507.54" x2="546.51" y1="329.97" y2="329.97" class="hl2"/>
<line x1="429.60" x2="507.54" y1="337.48" y2="337.48" class="hl"/>
<line x1="507.54" x2="546.51" y1="337.48" y2="337.48" class="hl2"/>
<line x1="429.60" x2="546.51" y1="345.00" y2="345.00" class="hl"/>
<line x1="429.60" x2="546.51" y1="352.51" y2="352.51" class="hl2"/>
<line x1="429.60" x2="546.51" y1="360.02" y2="360.02" class="hl2"/>
<line x1="429.60" x2="546.51" y1="367.53" y2="367.53" class="hl2"/>
<line x1="429.60" x2="507.54" y1="375.04" y2="375.04" class="hl"/>
<line x1="507.54" x2="546.51" y1="375.04" y2="375.04" class="hl2"/>
<line x1="429.60" x2="507.54" y1="382.56" y2="382.56" class="hl"/>
<line x1="507.54" x2="546.51" y1="382.56" y2="382.56" class="hl2"/>
<line x1="429.60" x2="507.54" y1="390.07" y2="390.07" class="hl"/>
<line x1="507.54" x2="546.51" y1="390.07" y2="390.07" class="hl2"/>
<line x1="429.60" x2="546.51" y1="397.58" y2="397.58" class="hl"/>
<line x1="429.60" x2="546.51" y1="405.09" y2="405.09" class="hl"/>
<line x1="429.60" x2="507.54" y1="412.60" y2="412.60" class="hl"/>
<line x1="507.54" x2="546.51" y1="412.60" y2="412.60" class="hl2"/>
<line x1="429.60" x2="507.54" y1="420.12" y2="420.12" class="hl"/>
<line x1="507.54" x2="546.51" y1="420.12" y2="420.12" class="hl2"/>
<line x1="429.60" x2="507.54" y1="427.63" y2="427.63" class="hl"/>
<line x1="507.54" x2="546.51" y1="427.63" y2="427.63" class="hl2"/>
<line x1="429.60" x2="507.54" y1="435.14" y2="435.14" class="hl"/>
<line x1="507.54" x2="546.51" y1="435.14" y2="435.14" class="hl2"/>
<line x1="429.60" x2="507.54" y1="442.65" y2="442.65" class="hl"/>
<line x1="507.54" x2="546.51" y1="442.65" y2="442.65" class="hl2"/>
<line x1="429.60" x2="546.51" y1="450.16" y2="450.16" class="hl"/>
<line x1="429.60" x2="429.60" y1="97.10" y2="352.51" class="vl"/>
<line x1="429.60" x2="429.60" y1="352.51" y2="367.53" class="vl2"/>
<line x1="429.60" x2="429.60" y1="367.53" y2="450.16" class="vl"/>
<line x1="468.57" x2="468.57" y1="97.10" y2="352.51" class="vl"/>
<line x1="468.57" x2="468.57" y1="352.51" y2="367.53" class="vl2"/>
<line x1="468.57" x2="468.57" y1="367.53" y2="450.16" class="vl"/>
<line x1="507.54" x2="507.54" y1="97.10" y2="119.64" class="vl"/>
<line x1="507.54" x2="507.54" y1="119.64" y2="127.15" class="vl2"/>
<line x1="507.54" x2="507.54" y1="127.15" y2="157.20" class="vl"/>
<line x1="507.54" x2="507.54" y1="157.20" y2="164.71" class="vl2"/>
<line x1="507.54" x2="507.54" y1="164.71" y2="269.88" class="vl"/>
<line x1="507.54" x2="507.54" y1="269.88" y2="284.90" class="vl2"/>
<line x1="507.54" x2="507.54" y1="284.90" y2="292.41" class="vl"/>
<line x1="507.54" x2="507.54" y1="292.41" y2="299.92" class="vl2"/>
<line x1="507.54" x2="507.54" y1="299.92" y2="322.46" class="vl"/>
<line x1="507.54" x2="507.54" y1="322.46" y2="337.48" class="vl2"/>
<line x1="507.54" x2="507.54" y1="337.48" y2="352.51" class="vl"/>
<line x1="507.54" x2="507.54" y1="352.51" y2="375.04" class="vl2"/>
<line x1="507.54" x2="507.54" y1="375.04" y2="382.56" class="vl"/>
<line x1="507.54" x2="507.54" y1="382.56" y2="390.07" class="vl2"/>
<line x1="507.54" x2="507.54" y1="390.07" y2="412.60" class="vl"/>
<line x1="507.54" x2="507.54" y1="412.60" y2="420.12" class="vl2"/>
<line x1="507.54" x2="507.54" y1="420.12" y2="427.63" class="vl"/>
<line x1="507.54" x2="507.54" y1="427.63" y2="442.65" class="vl2"/>
<line x1="507.54" x2="507.54" y1="442.65" y2="450.16" class="vl"/>
<line x1="546.51" x2="546.51" y1="97.10" y2="119.64" class="vl"/>
<line x1="546.51" x2="546.51" y1="119.64" y2="127.15" class="vl2"/>
<line x1="546.51" x2="546.51" y1="127.15" y2="157.20" class="vl"/>
<line x1="546.51" x2="546.51" y1="157.20" y2="164.71" class="vl2"/>
<line x1="546.51" x2="546.51" y1="164.71" y2="269.88" class="vl"/>
<line x1="546.51" x2="546.51" y1="269.88" y2="284.90" class="vl2"/>
<line x1="546.51" x2="546.51" y1="284.90" y2="292.41" class="vl"/>
<line x1="546.51" x2="546.51" y1="292.41" y2="299.92" class="vl2"/>
<line x1="546.51" x2="546.51" y1="299.92" y2="322.46" class="vl"/>
<line x1="546.51" x2="546.51" y1="322.46" y2="337.48" class="vl2"/>
<line x1="546.51" x2="546.51" y1="337.48" y2="352.51" class="vl"/>
<line x1="546.51" x2="546.51" y1="352.51" y2="375.04" class="vl2"/>
<line x1="546.51" x2="546.51" y1="375.04" y2="382.56" class="vl"/>
<line x1="546.51" x2="546.51" y1="382.56" y2="390.07" class="vl2"/>
<line x1="546.51" x2="546.51" y1="390.07" y2="412.60" class="vl"/>
<line x1="546.51" x2="546.51" y1="412.60" y2="420.12" class="vl2"/>
<line x1="546.51" x2="546.51" y1="420.12" y2="427.63" class="vl"/>
<line x1="546.51" x2="546.51" y1="427.63" y2="442.65" class="vl2"/>
<line x1="546.51" x2="546.51" y1="442.65" y2="450.16" class="vl"/>
<line x1="426.40" x2="429.60" y1="100.86" y2="100.86" class="tk"/>
<text transform="translate(425.30,103.16) scale(0.912,1) rotate(0.05)" class="lb b">Longer time for EQA results review</text>
<line x1="426.40" x2="429.60" y1="108.37" y2="108.37" class="tk"/>
<text transform="translate(425.30,110.67) scale(0.912,1) rotate(0.05)" class="lb b">Error detected before EQA results release</text>
<line x1="426.40" x2="429.60" y1="115.88" y2="115.88" class="tk"/>
<text transform="translate(425.30,118.18) scale(0.912,1) rotate(0.05)" class="lb b">Discussion of EQA results in the laboratory</text>
<line x1="426.40" x2="429.60" y1="123.39" y2="123.39" class="tk"/>
<text transform="translate(425.30,125.69) scale(0.912,1) rotate(0.05)" class="lb">Change method/control</text>
<line x1="426.40" x2="429.60" y1="130.90" y2="130.90" class="tk"/>
<text transform="translate(425.30,133.20) scale(0.912,1) rotate(0.05)" class="lb">Contact manufacturer</text>
<line x1="426.40" x2="429.60" y1="138.42" y2="138.42" class="tk"/>
<text transform="translate(425.30,140.72) scale(0.912,1) rotate(0.05)" class="lb">Contact EQA provider</text>
<line x1="426.40" x2="429.60" y1="145.93" y2="145.93" class="tk"/>
<text transform="translate(425.30,148.23) scale(0.912,1) rotate(0.05)" class="lb">Implement/optimize procedure</text>
<line x1="426.40" x2="429.60" y1="153.44" y2="153.44" class="tk"/>
<text transform="translate(425.30,155.74) scale(0.912,1) rotate(0.05)" class="lb">Protocol revision</text>
<line x1="426.40" x2="429.60" y1="160.95" y2="160.95" class="tk"/>
<text transform="translate(425.30,163.25) scale(0.912,1) rotate(0.05)" class="lb">Retest sample</text>
<line x1="426.40" x2="429.60" y1="168.46" y2="168.46" class="tk"/>
<text transform="translate(425.30,170.76) scale(0.912,1) rotate(0.05)" class="lb">Staff training</text>
<line x1="426.40" x2="429.60" y1="175.98" y2="175.98" class="tk"/>
<text transform="translate(425.30,178.28) scale(0.912,1) rotate(0.05)" class="lb">No action</text>
<line x1="426.40" x2="429.60" y1="183.49" y2="183.49" class="tk"/>
<text transform="translate(425.30,185.79) scale(0.912,1) rotate(0.05)" class="lb b">More people involved in error follow-up</text>
<line x1="426.40" x2="429.60" y1="191.00" y2="191.00" class="tk"/>
<text transform="translate(425.30,193.30) scale(0.912,1) rotate(0.05)" class="lb">Quality manager</text>
<line x1="426.40" x2="429.60" y1="198.51" y2="198.51" class="tk"/>
<text transform="translate(425.30,200.81) scale(0.912,1) rotate(0.05)" class="lb">Lead laboratory technician</text>
<line x1="426.40" x2="429.60" y1="206.02" y2="206.02" class="tk"/>
<text transform="translate(425.30,208.32) scale(0.912,1) rotate(0.05)" class="lb">Laboratory technician</text>
<line x1="426.40" x2="429.60" y1="213.54" y2="213.54" class="tk"/>
<text transform="translate(425.30,215.84) scale(0.912,1) rotate(0.05)" class="lb">Molecular biologist</text>
<line x1="426.40" x2="429.60" y1="221.05" y2="221.05" class="tk"/>
<text transform="translate(425.30,223.35) scale(0.912,1) rotate(0.05)" class="lb">Pathologist</text>
<line x1="426.40" x2="429.60" y1="228.56" y2="228.56" class="tk"/>
<text transform="translate(425.30,230.86) scale(0.912,1) rotate(0.05)" class="lb">Laboratory director</text>
<line x1="426.40" x2="429.60" y1="236.07" y2="236.07" class="tk"/>
<text transform="translate(425.30,238.37) scale(0.912,1) rotate(0.05)" class="lb">Other</text>
<line x1="426.40" x2="429.60" y1="243.58" y2="243.58" class="tk"/>
<text transform="translate(425.30,245.88) scale(0.912,1) rotate(0.05)" class="lb b">More people involved in interpretation</text>
<line x1="426.40" x2="429.60" y1="251.10" y2="251.10" class="tk"/>
<text transform="translate(425.30,253.40) scale(0.912,1) rotate(0.05)" class="lb">Laboratory technician</text>
<line x1="426.40" x2="429.60" y1="258.61" y2="258.61" class="tk"/>
<text transform="translate(425.30,260.91) scale(0.912,1) rotate(0.05)" class="lb">Molecular biologist</text>
<line x1="426.40" x2="429.60" y1="266.12" y2="266.12" class="tk"/>
<text transform="translate(425.30,268.42) scale(0.912,1) rotate(0.05)" class="lb">Pathologist</text>
<line x1="426.40" x2="429.60" y1="273.63" y2="273.63" class="tk"/>
<text transform="translate(425.30,275.93) scale(0.912,1) rotate(0.05)" class="lb">Laboratory director</text>
<line x1="426.40" x2="429.60" y1="281.14" y2="281.14" class="tk"/>
<text transform="translate(425.30,283.44) scale(0.912,1) rotate(0.05)" class="lb">Geneticist</text>
<line x1="426.40" x2="429.60" y1="288.66" y2="288.66" class="tk"/>
<text transform="translate(425.30,290.96) scale(0.912,1) rotate(0.05)" class="lb">KMBP</text>
<line x1="426.40" x2="429.60" y1="296.17" y2="296.17" class="tk"/>
<text transform="translate(425.30,298.47) scale(0.912,1) rotate(0.05)" class="lb">Other</text>
<line x1="426.40" x2="429.60" y1="303.68" y2="303.68" class="tk"/>
<text transform="translate(425.30,305.98) scale(0.912,1) rotate(0.05)" class="lb b">More trainings offered</text>
<line x1="426.40" x2="429.60" y1="311.19" y2="311.19" class="tk"/>
<text transform="translate(425.30,313.49) scale(0.912,1) rotate(0.05)" class="lb">No additional training</text>
<line x1="426.40" x2="429.60" y1="318.70" y2="318.70" class="tk"/>
<text transform="translate(425.30,321.00) scale(0.912,1) rotate(0.05)" class="lb">Performing validations</text>
<line x1="426.40" x2="429.60" y1="326.22" y2="326.22" class="tk"/>
<text transform="translate(425.30,328.52) scale(0.912,1) rotate(0.05)" class="lb">Laboratory meetings</text>
<line x1="426.40" x2="429.60" y1="333.73" y2="333.73" class="tk"/>
<text transform="translate(425.30,336.03) scale(0.912,1) rotate(0.05)" class="lb">Learning from colleagues</text>
<line x1="426.40" x2="429.60" y1="341.24" y2="341.24" class="tk"/>
<text transform="translate(425.30,343.54) scale(0.912,1) rotate(0.05)" class="lb">Training by manufacturer</text>
<line x1="426.40" x2="429.60" y1="348.75" y2="348.75" class="tk"/>
<text transform="translate(425.30,351.05) scale(0.912,1) rotate(0.05)" class="lb">Training course/workshop</text>
<line x1="426.40" x2="429.60" y1="356.26" y2="356.26" class="tk"/>
<text transform="translate(425.30,358.56) scale(0.912,1) rotate(0.05)" class="lb">Literature study</text>
<line x1="426.40" x2="429.60" y1="363.78" y2="363.78" class="tk"/>
<text transform="translate(425.30,366.08) scale(0.912,1) rotate(0.05)" class="lb">EQA/laboratory exchange</text>
<line x1="426.40" x2="429.60" y1="371.29" y2="371.29" class="tk"/>
<text transform="translate(425.30,373.59) scale(0.912,1) rotate(0.05)" class="lb">Other training</text>
<line x1="426.40" x2="429.60" y1="378.80" y2="378.80" class="tk"/>
<text transform="translate(425.30,381.10) scale(0.912,1) rotate(0.05)" class="lb b">More people involved in reporting</text>
<line x1="426.40" x2="429.60" y1="386.31" y2="386.31" class="tk"/>
<text transform="translate(425.30,388.61) scale(0.912,1) rotate(0.05)" class="lb">Lead laboratory technician</text>
<line x1="426.40" x2="429.60" y1="393.82" y2="393.82" class="tk"/>
<text transform="translate(425.30,396.12) scale(0.912,1) rotate(0.05)" class="lb">Laboratory technician</text>
<line x1="426.40" x2="429.60" y1="401.34" y2="401.34" class="tk"/>
<text transform="translate(425.30,403.64) scale(0.912,1) rotate(0.05)" class="lb">Molecular biologist</text>
<line x1="426.40" x2="429.60" y1="408.85" y2="408.85" class="tk"/>
<text transform="translate(425.30,411.15) scale(0.912,1) rotate(0.05)" class="lb">Pathologist</text>
<line x1="426.40" x2="429.60" y1="416.36" y2="416.36" class="tk"/>
<text transform="translate(425.30,418.66) scale(0.912,1) rotate(0.05)" class="lb">Laboratory director</text>
<line x1="426.40" x2="429.60" y1="423.87" y2="423.87" class="tk"/>
<text transform="translate(425.30,426.17) scale(0.912,1) rotate(0.05)" class="lb">Geneticist</text>
<line x1="426.40" x2="429.60" y1="431.38" y2="431.38" class="tk"/>
<text transform="translate(425.30,433.68) scale(0.912,1) rotate(0.05)" class="lb">KMBP</text>
<line x1="426.40" x2="429.60" y1="438.90" y2="438.90" class="tk"/>
<text transform="translate(425.30,441.20) scale(0.912,1) rotate(0.05)" class="lb">Other</text>
<line x1="426.40" x2="429.60" y1="446.41" y2="446.41" class="tk"/>
<text transform="translate(425.30,448.71) scale(0.912,1) rotate(0.05)" class="lb b">Continous education offered</text>
<line x1="146.84" x2="146.84" y1="93.60" y2="96.80" class="tk"/>
<text transform="translate(149.54,93.30) rotate(-89.95) scale(0.92,1)" class="hd">Pathology laboratories</text>
<line x1="170.32" x2="170.32" y1="93.60" y2="96.80" class="tk"/>
<text transform="translate(173.02,93.30) rotate(-89.95) scale(0.92,1)" class="hd">Accredited laboratories</text>
<line x1="193.80" x2="193.80" y1="93.60" y2="96.80" class="tk"/>
<text transform="translate(192.60,93.30) rotate(-89.95) scale(0.92,1)" class="hd">Laboratories with a larger</text>
<text transform="translate(200.40,93.30) rotate(-89.95) scale(0.92,1)" class="hd">number of staff members</text>
<line x1="217.28" x2="217.28" y1="93.60" y2="96.80" class="tk"/>
<text transform="translate(216.08,93.30) rotate(-89.95) scale(0.92,1)" class="hd">Laboratories testing a larger</text>
<text transform="translate(223.88,93.30) rotate(-89.95) scale(0.92,1)" class="hd">number of samples annually</text>
<line x1="240.76" x2="240.76" y1="93.60" y2="96.80" class="tk"/>
<text transform="translate(239.56,93.30) rotate(-89.95) scale(0.92,1)" class="hd">Laboratories who changed their</text>
<text transform="translate(247.36,93.30) rotate(-89.95) scale(0.92,1)" class="hd">method in the last 12 months</text>
<line x1="449.09" x2="449.09" y1="93.90" y2="97.10" class="tk"/>
<text transform="translate(451.79,93.60) rotate(-89.95) scale(0.92,1)" class="hd">Successful performance</text>
<line x1="488.06" x2="488.06" y1="93.90" y2="97.10" class="tk"/>
<text transform="translate(490.75,93.60) rotate(-89.95) scale(0.92,1)" class="hd">Fewer analysis errors</text>
<line x1="527.02" x2="527.02" y1="93.90" y2="97.10" class="tk"/>
<text transform="translate(529.73,93.60) rotate(-89.95) scale(0.92,1)" class="hd">Fewer technical failures</text>
<defs><linearGradient id="g135" x1="0" x2="1" y1="0" y2="0"><stop offset="0" stop-color="#e8545a"/><stop offset="0.06" stop-color="#e98a8d"/><stop offset="0.12" stop-color="#ebc9ca"/><stop offset="0.167" stop-color="#d8d8d8"/><stop offset="0.333" stop-color="#b3d7c4"/><stop offset="0.5" stop-color="#84c6a6"/><stop offset="0.667" stop-color="#55b48a"/><stop offset="0.833" stop-color="#2aa16c"/><stop offset="0.93" stop-color="#0f8a52"/><stop offset="1" stop-color="#00663a"/></linearGradient></defs>
<rect x="135.20" y="454.30" width="117.80" height="7.10" fill="url(#g135)" stroke="#666" stroke-width="0.7"/>
<text x="135.20" y="467.30" class="cbl">0</text>
<line x1="152.15" x2="152.15" y1="454.30" y2="461.40" class="cbt"/>
<line x1="152.15" x2="152.15" y1="454.30" y2="455.60" class="cbt2"/>
<line x1="152.15" x2="152.15" y1="459.90" y2="461.40" class="cbt2"/>
<text x="152.15" y="467.30" class="cbl">1</text>
<line x1="169.10" x2="169.10" y1="454.30" y2="461.40" class="cbt"/>
<line x1="169.10" x2="169.10" y1="454.30" y2="455.60" class="cbt2"/>
<line x1="169.10" x2="169.10" y1="459.90" y2="461.40" class="cbt2"/>
<text x="169.10" y="467.30" class="cbl">2</text>
<line x1="186.05" x2="186.05" y1="454.30" y2="461.40" class="cbt"/>
<line x1="186.05" x2="186.05" y1="454.30" y2="455.60" class="cbt2"/>
<line x1="186.05" x2="186.05" y1="459.90" y2="461.40" class="cbt2"/>
<text x="186.05" y="467.30" class="cbl">3</text>
<line x1="203.00" x2="203.00" y1="454.30" y2="461.40" class="cbt"/>
<line x1="203.00" x2="203.00" y1="454.30" y2="455.60" class="cbt2"/>
<line x1="203.00" x2="203.00" y1="459.90" y2="461.40" class="cbt2"/>
<text x="203.00" y="467.30" class="cbl">4</text>
<line x1="219.95" x2="219.95" y1="454.30" y2="461.40" class="cbt"/>
<line x1="219.95" x2="219.95" y1="454.30" y2="455.60" class="cbt2"/>
<line x1="219.95" x2="219.95" y1="459.90" y2="461.40" class="cbt2"/>
<text x="219.95" y="467.30" class="cbl">5</text>
<line x1="236.90" x2="236.90" y1="454.30" y2="461.40" class="cbt"/>
<line x1="236.90" x2="236.90" y1="454.30" y2="455.60" class="cbt2"/>
<line x1="236.90" x2="236.90" y1="459.90" y2="461.40" class="cbt2"/>
<text x="236.90" y="467.30" class="cbl">6</text>
<text x="251.50" y="467.30" class="cbl">&gt;6</text>
<text transform="translate(195.70,475.80) scale(0.86,1)" class="or">Odds ratio</text>
<defs><linearGradient id="g428" x1="0" x2="1" y1="0" y2="0"><stop offset="0" stop-color="#e8545a"/><stop offset="0.06" stop-color="#e98a8d"/><stop offset="0.12" stop-color="#ebc9ca"/><stop offset="0.167" stop-color="#d8d8d8"/><stop offset="0.333" stop-color="#b3d7c4"/><stop offset="0.5" stop-color="#84c6a6"/><stop offset="0.667" stop-color="#55b48a"/><stop offset="0.833" stop-color="#2aa16c"/><stop offset="0.93" stop-color="#0f8a52"/><stop offset="1" stop-color="#00663a"/></linearGradient></defs>
<rect x="428.70" y="454.60" width="119.00" height="7.40" fill="url(#g428)" stroke="#666" stroke-width="0.7"/>
<text x="428.70" y="467.30" class="cbl">0</text>
<line x1="445.65" x2="445.65" y1="454.60" y2="462.00" class="cbt"/>
<line x1="445.65" x2="445.65" y1="454.60" y2="455.90" class="cbt2"/>
<line x1="445.65" x2="445.65" y1="460.50" y2="462.00" class="cbt2"/>
<text x="445.65" y="467.30" class="cbl">1</text>
<line x1="462.60" x2="462.60" y1="454.60" y2="462.00" class="cbt"/>
<line x1="462.60" x2="462.60" y1="454.60" y2="455.90" class="cbt2"/>
<line x1="462.60" x2="462.60" y1="460.50" y2="462.00" class="cbt2"/>
<text x="462.60" y="467.30" class="cbl">2</text>
<line x1="479.55" x2="479.55" y1="454.60" y2="462.00" class="cbt"/>
<line x1="479.55" x2="479.55" y1="454.60" y2="455.90" class="cbt2"/>
<line x1="479.55" x2="479.55" y1="460.50" y2="462.00" class="cbt2"/>
<text x="479.55" y="467.30" class="cbl">3</text>
<line x1="496.50" x2="496.50" y1="454.60" y2="462.00" class="cbt"/>
<line x1="496.50" x2="496.50" y1="454.60" y2="455.90" class="cbt2"/>
<line x1="496.50" x2="496.50" y1="460.50" y2="462.00" class="cbt2"/>
<text x="496.50" y="467.30" class="cbl">4</text>
<line x1="513.45" x2="513.45" y1="454.60" y2="462.00" class="cbt"/>
<line x1="513.45" x2="513.45" y1="454.60" y2="455.90" class="cbt2"/>
<line x1="513.45" x2="513.45" y1="460.50" y2="462.00" class="cbt2"/>
<text x="513.45" y="467.30" class="cbl">5</text>
<line x1="530.40" x2="530.40" y1="454.60" y2="462.00" class="cbt"/>
<line x1="530.40" x2="530.40" y1="454.60" y2="455.90" class="cbt2"/>
<line x1="530.40" x2="530.40" y1="460.50" y2="462.00" class="cbt2"/>
<text x="530.40" y="467.30" class="cbl">6</text>
<text x="545.20" y="467.30" class="cbl">&gt;6</text>
<text transform="translate(488.60,478.00) scale(0.86,1)" class="or">Odds ratio</text>
<text x="14" y="13.6" class="pl">(a)</text>
<text x="300.5" y="13.6" class="pl">(b)</text>
</svg>
</body></html>
